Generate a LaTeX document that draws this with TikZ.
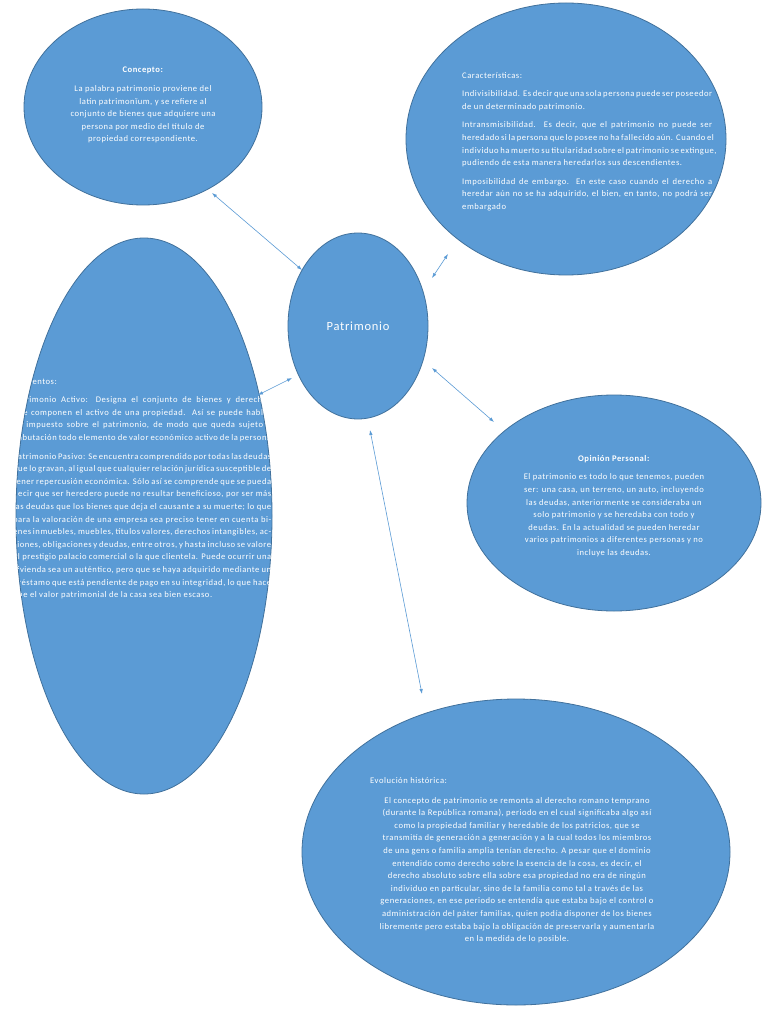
\documentclass[tikz,border=0pt]{standalone}
\usepackage{fontspec}
\setmainfont{Carlito}[LetterSpace=6]
\usetikzlibrary{shapes.geometric,arrows.meta}
\definecolor{fillb}{HTML}{5B9BD5}
\definecolor{edgeb}{HTML}{41719C}
\newcommand{\nohyph}{\hyphenpenalty=10000\relax\exhyphenpenalty=10000\relax\emergencystretch=20pt\relax}
\tikzset{
  bub/.style={ellipse,fill=fillb,draw=edgeb,line width=0.8pt,inner sep=0pt},
  txt/.style={text=white,font=\fontsize{8.6}{12.6}\selectfont,inner sep=0pt},
  link/.style={draw=fillb,line width=0.6pt,{Latex[length=5pt,width=3.5pt]}-{Latex[length=5pt,width=3.5pt]}}
}
\begin{document}
\begin{tikzpicture}[x=1pt,y=-1pt]
\useasboundingbox (0,0) rectangle (768,1024);
\fill[white] (0,0) rectangle (768,1024);
\node[bub,minimum width=238pt,minimum height=196pt] (con) at (143,107) {};
\node[bub,minimum width=320pt,minimum height=272pt] (car) at (566,139) {};
\node[bub,minimum width=140pt,minimum height=186pt] (pat) at (358,326) {};
\node[bub,minimum width=256pt,minimum height=556pt] (ele) at (144,516) {};
\node[bub,minimum width=294pt,minimum height=216pt] (opi) at (614,503) {};
\node[bub,minimum width=428pt,minimum height=306pt] (evo) at (516,852) {};

\node[txt,font=\fontsize{12.5}{14}\selectfont] (patt) at (358,326) {Patrimonio};

\node[txt,align=center,anchor=north] (cont) at (143,67) {\textbf{Concepto:}\\[6pt]La palabra patrimonio proviene del\\latín patrimonĭum, y se refiere al\\conjunto de bienes que adquiere una\\persona por medio del título de\\propiedad correspondiente.};

\node[txt,anchor=north west,text width=250pt,align=justify] (cart) at (462,72) {\nohyph Características:\par\vspace{6pt}
Indivisibilidad. Es decir que una sola persona puede ser poseedor de un determinado patrimonio.\par\vspace{6pt}
Intransmisibilidad. Es decir, que el patrimonio no puede ser heredado si la persona que lo posee no ha fallecido aún. Cuando el individuo ha muerto su titularidad sobre el patrimonio se extingue, pudiendo de esta manera heredarlos sus descendientes.\par\vspace{6pt}
Imposibilidad de embargo. En este caso cuando el derecho a heredar aún no se ha adquirido, el bien, en tanto, no podrá ser embargado};

\begin{scope}
\clip (144,516) ellipse [x radius=128, y radius=278];
\node[txt,anchor=north west,text width=258pt,align=justify] (elet) at (13,378) {\nohyph Elementos:\par\vspace{6pt}
Patrimonio Activo: Designa el conjunto de bienes y derechos que componen el activo de una propiedad. Así se puede hablar de impuesto sobre el patrimonio, de modo que queda sujeto a tributación todo elemento de valor económico activo de la persona\par\vspace{6pt}
Patrimonio Pasivo: Se encuentra comprendido por todas las deudas que lo gravan, al igual que cualquier relación jurídica susceptible de tener repercusión económica. Sólo así se comprende que se pueda decir que ser heredero puede no resultar beneficioso, por ser más las deudas que los bienes que deja el causante a su muerte; lo que para la valoración de una empresa sea preciso tener en cuenta bienes inmuebles, muebles, títulos valores, derechos intangibles, acciones, obligaciones y deudas, entre otros, y hasta incluso se valore el prestigio palacio comercial o la que clientela. Puede ocurrir una vivienda sea un auténtico, pero que se haya adquirido mediante un préstamo que está pendiente de pago en su integridad, lo que hace que el valor patrimonial de la casa sea bien escaso.};
\end{scope}

\node[txt,align=center,anchor=north] (opit) at (614,455) {\textbf{Opinión Personal:}\\[6pt]El patrimonio es todo lo que tenemos, pueden\\ser: una casa, un terreno, un auto, incluyendo\\las deudas, anteriormente se consideraba un\\solo patrimonio y se heredaba con todo y\\deudas. En la actualidad se pueden heredar\\varios patrimonios a diferentes personas y no\\incluye las deudas.};

\node[txt,anchor=north west] (evoh) at (370,777) {Evolución histórica:};
\node[txt,align=center,anchor=north] (evot) at (517,797) {El concepto de patrimonio se remonta al derecho romano temprano\\(durante la República romana), periodo en el cual significaba algo así\\como la propiedad familiar y heredable de los patricios, que se\\transmitía de generación a generación y a la cual todos los miembros\\de una gens o familia amplia tenían derecho. A pesar que el dominio\\entendido como derecho sobre la esencia de la cosa, es decir, el\\derecho absoluto sobre ella sobre esa propiedad no era de ningún\\individuo en particular, sino de la familia como tal a través de las\\generaciones, en ese periodo se entendía que estaba bajo el control o\\administración del páter familias, quien podía disponer de los bienes\\libremente pero estaba bajo la obligación de preservarla y aumentarla\\en la medida de lo posible.};

\coordinate (a1) at (212,193); \coordinate (b1) at (302,270);
\coordinate (a2) at (448,254); \coordinate (b2) at (432,278);
\coordinate (a3) at (258,395); \coordinate (b3) at (292,378);
\coordinate (a4) at (432,368); \coordinate (b4) at (494,422);
\coordinate (a5) at (370,430); \coordinate (b5) at (422,694);
\draw[link] (a1) -- (b1);
\draw[link] (a2) -- (b2);
\draw[link] (a3) -- (b3);
\draw[link] (a4) -- (b4);
\draw[link] (a5) -- (b5);
\end{tikzpicture}
\end{document}
